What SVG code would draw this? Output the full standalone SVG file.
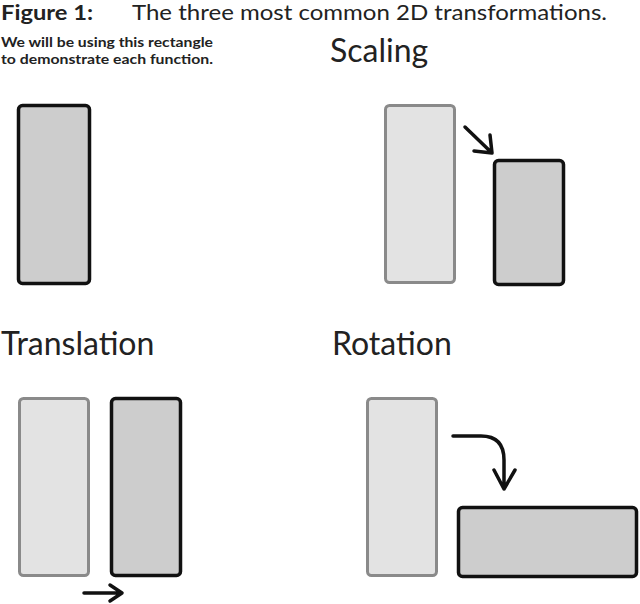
<svg xmlns="http://www.w3.org/2000/svg" width="640" height="604" viewBox="0 0 640 604">
<style>
.t{font-family:Lato,"Liberation Sans",sans-serif;fill:#222}
.h{font-size:32px}
.orig{fill:#e3e3e3;stroke:#8a8a8a;stroke-width:3}
.res{fill:#cdcdcd;stroke:#111;stroke-width:3.5}
.arr{fill:none;stroke:#111;stroke-width:3.5;stroke-linecap:round;stroke-linejoin:round}
</style>
<rect width="640" height="604" fill="#fff"/>
<g id="title">
<text class="t" x="1" y="20" font-size="21" font-weight="bold" textLength="92" lengthAdjust="spacingAndGlyphs">Figure 1:</text>
<text class="t" x="132" y="20" font-size="21" textLength="475" lengthAdjust="spacingAndGlyphs">The three most common 2D transformations.</text>
</g>
<g id="caption">
<text class="t" x="1" y="47" font-size="13.5" font-weight="bold" fill="#333" textLength="212" lengthAdjust="spacingAndGlyphs">We will be using this rectangle</text>
<text class="t" x="1" y="64" font-size="13.5" font-weight="bold" fill="#333" textLength="212" lengthAdjust="spacingAndGlyphs">to demonstrate each function.</text>
</g>
<g id="original">
<rect class="res" x="18.5" y="105.5" width="71" height="178" rx="4"/>
</g>
<g id="scaling">
<text class="t h" x="330" y="62">Scaling</text>
<rect class="orig" x="385.5" y="105.5" width="69" height="177" rx="4"/>
<rect class="res" x="494.5" y="160.5" width="69" height="124" rx="4"/>
</g>
<g id="translation">
<text class="t h" x="1" y="355">Translation</text>
<rect class="orig" x="19.5" y="398.5" width="69" height="177" rx="4"/>
<rect class="res" x="111.5" y="398.5" width="69" height="177" rx="4"/>
</g>
<g id="rotation">
<text class="t h" x="332" y="355">Rotation</text>
<rect class="orig" x="367.5" y="398.5" width="69" height="177" rx="4"/>
<rect class="res" x="458.5" y="507.5" width="178" height="69" rx="4"/>
</g>
<g id="connectors">
<path class="arr" d="M465,127 L492,153 M474,151 L492,153 L490,135"/>
<path class="arr" d="M84,593 H122 M110,585 L122,593 L110,601"/>
<path class="arr" d="M453,436 H481 Q504,436 504,460 V489 M494,470 L504,489 L515,470"/>
</g>
</svg>
